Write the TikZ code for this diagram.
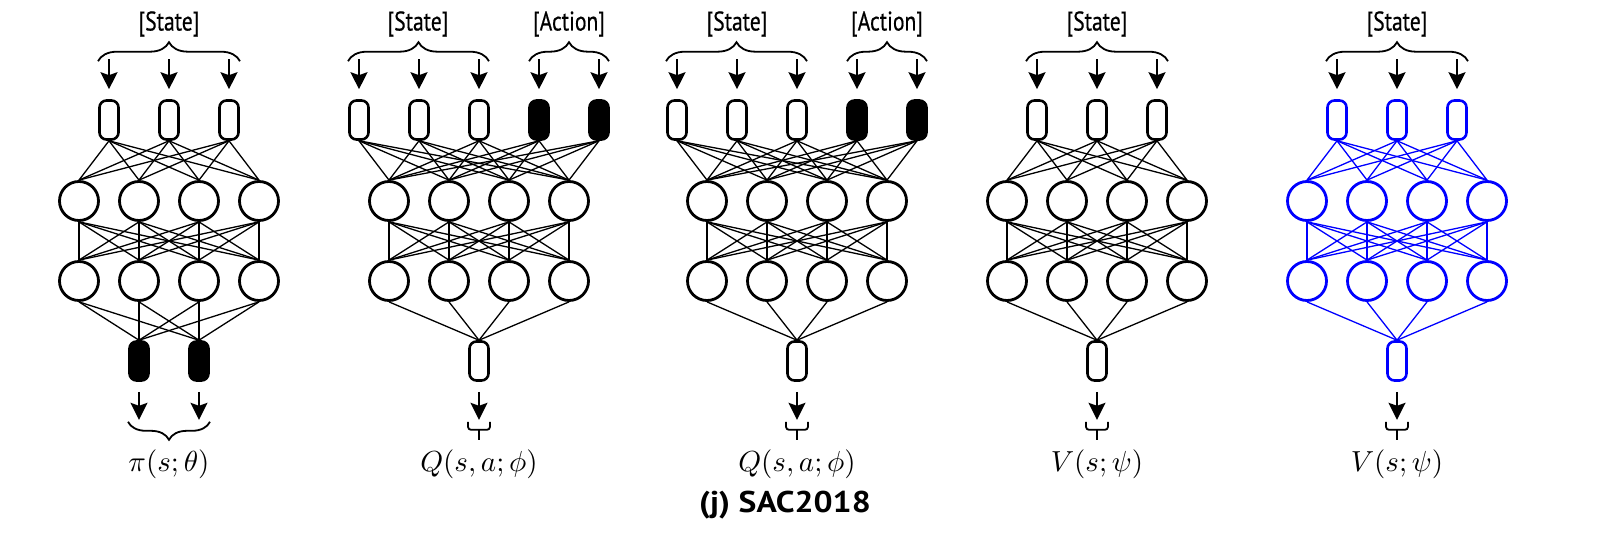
\documentclass[tikz,border=0pt]{standalone}
\usepackage{fontspec}
\setmainfont{PT Sans}
\newfontfamily\lblfont[FakeBold=0.6]{PT Sans}
\usetikzlibrary{calc,arrows.meta,decorations.pathreplacing}
\tikzset{
  inp/.style={draw, line width=2.6pt, rounded corners=7pt, minimum width=19pt, minimum height=39pt, inner sep=0pt},
  inpf/.style={inp, fill=black},
  neu/.style={circle, draw, line width=2.8pt, minimum size=39pt, inner sep=0pt},
  edge/.style={line width=1.3pt},
  arr/.style={line width=1.8pt, -{Stealth[length=17pt,width=17pt,inset=3pt]}},
  brc/.style={line width=1.8pt, decorate, decoration={brace, amplitude=19pt}},
  brcm/.style={line width=1.8pt, decorate, decoration={brace, amplitude=18pt, mirror}},
  sbrc/.style={line width=1.8pt, rounded corners=3pt},
  lbl/.style={font=\lblfont\fontsize{27}{30}\selectfont, inner sep=0pt, xscale=0.8},
  mlbl/.style={scale=2.9, inner sep=0pt},
  captxt/.style={font=\fontsize{30}{34}\selectfont\bfseries, inner sep=0pt, xscale=1.12}
}
\begin{document}
\begin{tikzpicture}[x=1pt,y=-1pt]
\useasboundingbox (0,0) rectangle (1600,540);
\fill[white] (0,0) rectangle (1600,540);

% ---------------- Panel 1: policy ----------------
\foreach \i/\x in {1/109,2/169,3/229} \node[inp] (a-i\i) at (\x,120) {};
\foreach \i/\x in {1/79,2/139,3/199,4/259} {
  \node[neu] (a-h\i) at (\x,201) {};
  \node[neu] (a-g\i) at (\x,281) {};
}
\foreach \i/\x in {1/139,2/199} \node[inpf] (a-o\i) at (\x,361) {};
\foreach \i in {1,2,3} \foreach \j in {1,...,4} \draw[edge] (a-i\i.south) -- (a-h\j.north);
\foreach \i in {1,...,4} \foreach \j in {1,...,4} \draw[edge] (a-h\i.south) -- (a-g\j.north);
\foreach \i in {1,...,4} \foreach \j in {1,2} \draw[edge] (a-g\i.south) -- (a-o\j.north);
\foreach \i in {1,2,3} \draw[arr] ($(a-i\i.north)+(0,-40)$) -- ($(a-i\i.north)+(0,-10)$);
\foreach \i in {1,2} \draw[arr] ($(a-o\i.south)+(0,10)$) -- ($(a-o\i.south)+(0,38)$);
\draw[brc] ($(a-i1.north)+(-11,-38)$) -- ($(a-i3.north)+(11,-38)$);
\node[lbl] (a-st) at (169,24) {[State]};
\draw[brcm] ($(a-o1.south)+(-11,40)$) -- ($(a-o2.south)+(11,40)$);
\node[mlbl] (a-f) at (169,464) {$\pi(s;\theta)$};

% ---------------- Panel 2: Q ----------------
\foreach \i/\x in {1/359,2/419,3/479} \node[inp] (b-i\i) at (\x,120) {};
\foreach \i/\x in {4/539,5/599} \node[inpf] (b-i\i) at (\x,120) {};
\foreach \i/\x in {1/389,2/449,3/509,4/569} {
  \node[neu] (b-h\i) at (\x,201) {};
  \node[neu] (b-g\i) at (\x,281) {};
}
\node[inp] (b-o) at (479,361) {};
\foreach \i in {1,...,5} \foreach \j in {1,...,4} \draw[edge] (b-i\i.south) -- (b-h\j.north);
\foreach \i in {1,...,4} \foreach \j in {1,...,4} \draw[edge] (b-h\i.south) -- (b-g\j.north);
\foreach \i in {1,...,4} \draw[edge] (b-g\i.south) -- (b-o.north);
\foreach \i in {1,...,5} \draw[arr] ($(b-i\i.north)+(0,-40)$) -- ($(b-i\i.north)+(0,-10)$);
\draw[arr] ($(b-o.south)+(0,10)$) -- ($(b-o.south)+(0,38)$);
\draw[brc] ($(b-i1.north)+(-11,-38)$) -- ($(b-i3.north)+(10,-38)$);
\draw[brc] ($(b-i4.north)+(-10,-38)$) -- ($(b-i5.north)+(10,-38)$);
\node[lbl] (b-st) at (418,24) {[State]};
\node[lbl] (b-ac) at (569,24) {[Action]};
\draw[sbrc] ($(b-o.south)+(-11,40)$) -- ($(b-o.south)+(-11,48)$) -- ($(b-o.south)+(11,48)$) -- ($(b-o.south)+(11,40)$);
\draw[line width=1.8pt] ($(b-o.south)+(0,48)$) -- ($(b-o.south)+(0,58)$);
\node[mlbl] (b-f) at (479,464) {$Q(s,a;\phi)$};

% ---------------- Panel 3: Q ----------------
\foreach \i/\x in {1/677,2/737,3/797} \node[inp] (c-i\i) at (\x,120) {};
\foreach \i/\x in {4/857,5/917} \node[inpf] (c-i\i) at (\x,120) {};
\foreach \i/\x in {1/707,2/767,3/827,4/887} {
  \node[neu] (c-h\i) at (\x,201) {};
  \node[neu] (c-g\i) at (\x,281) {};
}
\node[inp] (c-o) at (797,361) {};
\foreach \i in {1,...,5} \foreach \j in {1,...,4} \draw[edge] (c-i\i.south) -- (c-h\j.north);
\foreach \i in {1,...,4} \foreach \j in {1,...,4} \draw[edge] (c-h\i.south) -- (c-g\j.north);
\foreach \i in {1,...,4} \draw[edge] (c-g\i.south) -- (c-o.north);
\foreach \i in {1,...,5} \draw[arr] ($(c-i\i.north)+(0,-40)$) -- ($(c-i\i.north)+(0,-10)$);
\draw[arr] ($(c-o.south)+(0,10)$) -- ($(c-o.south)+(0,38)$);
\draw[brc] ($(c-i1.north)+(-11,-38)$) -- ($(c-i3.north)+(10,-38)$);
\draw[brc] ($(c-i4.north)+(-10,-38)$) -- ($(c-i5.north)+(10,-38)$);
\node[lbl] (c-st) at (737,24) {[State]};
\node[lbl] (c-ac) at (887,24) {[Action]};
\draw[sbrc] ($(c-o.south)+(-11,40)$) -- ($(c-o.south)+(-11,48)$) -- ($(c-o.south)+(11,48)$) -- ($(c-o.south)+(11,40)$);
\draw[line width=1.8pt] ($(c-o.south)+(0,48)$) -- ($(c-o.south)+(0,58)$);
\node[mlbl] (c-f) at (797,464) {$Q(s,a;\phi)$};

% ---------------- Panel 4: V ----------------
\foreach \i/\x in {1/1037,2/1097,3/1157} \node[inp] (d-i\i) at (\x,120) {};
\foreach \i/\x in {1/1007,2/1067,3/1127,4/1187} {
  \node[neu] (d-h\i) at (\x,201) {};
  \node[neu] (d-g\i) at (\x,281) {};
}
\node[inp] (d-o) at (1097,361) {};
\foreach \i in {1,2,3} \foreach \j in {1,...,4} \draw[edge] (d-i\i.south) -- (d-h\j.north);
\foreach \i in {1,...,4} \foreach \j in {1,...,4} \draw[edge] (d-h\i.south) -- (d-g\j.north);
\foreach \i in {1,...,4} \draw[edge] (d-g\i.south) -- (d-o.north);
\foreach \i in {1,2,3} \draw[arr] ($(d-i\i.north)+(0,-40)$) -- ($(d-i\i.north)+(0,-10)$);
\draw[arr] ($(d-o.south)+(0,10)$) -- ($(d-o.south)+(0,38)$);
\draw[brc] ($(d-i1.north)+(-11,-38)$) -- ($(d-i3.north)+(11,-38)$);
\node[lbl] (d-st) at (1097,24) {[State]};
\draw[sbrc] ($(d-o.south)+(-11,40)$) -- ($(d-o.south)+(-11,48)$) -- ($(d-o.south)+(11,48)$) -- ($(d-o.south)+(11,40)$);
\draw[line width=1.8pt] ($(d-o.south)+(0,48)$) -- ($(d-o.south)+(0,58)$);
\node[mlbl] (d-f) at (1097,464) {$V(s;\psi)$};

% ---------------- Panel 5: target V (blue) ----------------
\begin{scope}[blue]
\foreach \i/\x in {1/1337,2/1397,3/1457} \node[inp] (e-i\i) at (\x,120) {};
\foreach \i/\x in {1/1307,2/1367,3/1427,4/1487} {
  \node[neu] (e-h\i) at (\x,201) {};
  \node[neu] (e-g\i) at (\x,281) {};
}
\node[inp] (e-o) at (1397,361) {};
\foreach \i in {1,2,3} \foreach \j in {1,...,4} \draw[edge] (e-i\i.south) -- (e-h\j.north);
\foreach \i in {1,...,4} \foreach \j in {1,...,4} \draw[edge] (e-h\i.south) -- (e-g\j.north);
\foreach \i in {1,...,4} \draw[edge] (e-g\i.south) -- (e-o.north);
\end{scope}
\foreach \i in {1,2,3} \draw[arr] ($(e-i\i.north)+(0,-40)$) -- ($(e-i\i.north)+(0,-10)$);
\draw[arr] ($(e-o.south)+(0,10)$) -- ($(e-o.south)+(0,38)$);
\draw[brc] ($(e-i1.north)+(-11,-38)$) -- ($(e-i3.north)+(11,-38)$);
\node[lbl] (e-st) at (1397,24) {[State]};
\draw[sbrc] ($(e-o.south)+(-11,40)$) -- ($(e-o.south)+(-11,48)$) -- ($(e-o.south)+(11,48)$) -- ($(e-o.south)+(11,40)$);
\draw[line width=1.8pt] ($(e-o.south)+(0,48)$) -- ($(e-o.south)+(0,58)$);
\node[mlbl] (e-f) at (1397,464) {$V(s;\psi)$};

% caption
\node[captxt] (capt) at (785,505) {(j) SAC2018};
\end{tikzpicture}
\end{document}
